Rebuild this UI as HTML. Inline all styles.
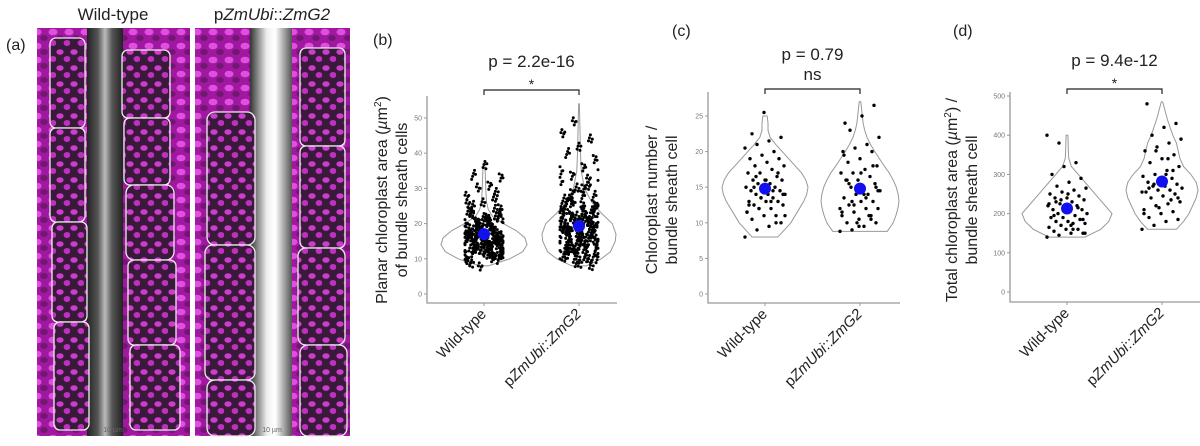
<!DOCTYPE html>
<html><head><meta charset="utf-8"><style>
html,body{margin:0;padding:0;background:#fff;}
svg{display:block;font-family:"Liberation Sans",sans-serif;}
</style></head><body>
<svg id="fig" width="1200" height="446" viewBox="0 0 1200 446">
<defs>
<pattern id="chl" width="14" height="16" patternUnits="userSpaceOnUse">
<rect width="14" height="16" fill="#3a1a3a"/>
<ellipse cx="4" cy="4" rx="3.6" ry="2.8" fill="#d03cd0"/>
<ellipse cx="11" cy="11" rx="3.4" ry="3" fill="#c030c0"/>
</pattern>
<pattern id="chl2" width="16" height="14" patternUnits="userSpaceOnUse">
<rect width="16" height="14" fill="#a018a0"/>
<ellipse cx="5" cy="4" rx="4.5" ry="3.3" fill="#e050e0"/>
<ellipse cx="12" cy="10" rx="3.8" ry="3" fill="#701870"/>
</pattern>
<linearGradient id="vein1" x1="0" x2="1"><stop offset="0" stop-color="#222"/><stop offset="0.3" stop-color="#555"/><stop offset="0.5" stop-color="#bbb"/><stop offset="0.7" stop-color="#555"/><stop offset="1" stop-color="#222"/></linearGradient>
<linearGradient id="vein2" x1="0" x2="1"><stop offset="0" stop-color="#333"/><stop offset="0.4" stop-color="#eee"/><stop offset="0.6" stop-color="#fff"/><stop offset="1" stop-color="#555"/></linearGradient>
</defs>

<g>
<text x="6" y="50" font-size="16" fill="#222">(a)</text>
<text x="113" y="20" font-size="17" text-anchor="middle" fill="#222">Wild-type</text>
<text x="272" y="20" font-size="17" text-anchor="middle" fill="#222">p<tspan font-style="italic">ZmUbi</tspan>::<tspan font-style="italic">ZmG2</tspan></text>
<g>
<rect x="37" y="28" width="153" height="408" fill="url(#chl2)"/>
<rect x="87" y="28" width="36" height="408" fill="url(#vein1)"/>
<g fill="url(#chl)" stroke="#eee" stroke-width="1.3">
<rect x="50" y="38" width="35" height="90" rx="6"/><rect x="50" y="128" width="35" height="94" rx="6"/>
<rect x="52" y="222" width="35" height="100" rx="6"/><rect x="54" y="322" width="35" height="108" rx="6"/>
<rect x="122" y="50" width="48" height="68" rx="6"/><rect x="124" y="118" width="46" height="67" rx="6"/>
<rect x="126" y="185" width="48" height="75" rx="8"/><rect x="128" y="260" width="48" height="85" rx="6"/>
<rect x="130" y="345" width="50" height="85" rx="6"/>
</g>
<text x="113" y="432" font-size="7" text-anchor="middle" fill="#666">10 µm</text>
</g>
<g>
<rect x="195" y="28" width="155" height="408" fill="url(#chl2)"/>
<rect x="250" y="28" width="42" height="408" fill="url(#vein2)"/>
<g fill="url(#chl)" stroke="#eee" stroke-width="1.3">
<rect x="207" y="112" width="48" height="133" rx="8"/><rect x="205" y="245" width="50" height="135" rx="8"/>
<rect x="207" y="380" width="48" height="56" rx="8"/>
<rect x="300" y="48" width="45" height="98" rx="6"/><rect x="300" y="146" width="45" height="102" rx="6"/>
<rect x="298" y="248" width="47" height="97" rx="8"/><rect x="300" y="345" width="47" height="91" rx="8"/>
</g>
<text x="272" y="432" font-size="7" text-anchor="middle" fill="#666">10 µm</text>
</g>
</g>
<g id="charts"></g>
</svg>
<script>
// ---- panel b data ----
const categories = ["Wild-type", "pZmUbi::ZmG2"];
const bTicks = [0,10,20,30,40,50];
const bMeans = [17, 19.3];
const bWtLevels = [8,10,12,14,16,18,20,22,24,26,30,34,37];
const bWtWidths = [0.1,0.6,0.9,1.0,0.95,0.75,0.45,0.2,0.1,0.06,0.04,0.03,0.02];
const bG2Levels = [8,10,12,15,17,20,23,26,30,35,40,45,54];
const bG2Widths = [0.2,0.6,0.85,0.98,1,0.9,0.6,0.35,0.15,0.06,0.04,0.03,0.01];
const bWtPoints = [12,14,15,16,17,18,19,20,13,11,10,9,15,16,17,18,14,13,12,21,22,23,19,18,17,16,15,14,13,12,11,10,20,21,24,25,16,15,17,18,19,14,13,12,11,16,17,18,15,14,20,22,23,26,27,28,30,31,33,34,37,29,9,8,10,12,13,15,16,17,18,19,20,21,14,16,18,22,24,26,12.5,13.5,14.5,15.5,16.5,17.5,18.5,19.5,11.5,10.5,20.5,21.5,22.5,23.5,14,15,16,17,13,12];
const bG2Points = [10,12,14,16,18,20,22,24,26,28,11,13,15,17,19,21,23,25,27,9,8,10,12,14,16,18,20,22,24,30,31,32,34,36,38,40,42,44,46,49,12,15,18,21,24,27,13,16,19,22,25,28,14,17,20,23,26,11,13,15,17,19,21,9,10,12,14,16,18,20,22,33,35,29,30,19,17,15,20,25,12.5,13.5,14.5,15.5,16.5,17.5,18.5,19.5,20.5,21.5,22.5,23.5,24.5,11.5,10.5,9.5];
// ---- panel c data ----
const cTicks = [0,5,10,15,20,25];
const cMeans = [14.8, 14.8];
const cWtLevels = [8,9,10,11,12,13,14,15,16,17,18,19,20,21,22,23,24,25];
const cWtWidths = [0.3,0.45,0.6,0.7,0.8,0.9,0.97,1,0.95,0.85,0.7,0.55,0.4,0.25,0.12,0.07,0.07,0.05];
const cG2Levels = [8.8,10,11,12,13,14,15,16,17,18,19,20,21,22,23,24,25,26,27];
const cG2Widths = [0.7,0.85,0.92,0.97,1,0.98,0.93,0.85,0.75,0.62,0.5,0.38,0.27,0.18,0.12,0.08,0.06,0.04,0.02];
const cWtPoints = [8,9,9.5,10,10.5,11,11,11.5,12,12,12.5,12.5,13,13,13,13.5,13.5,14,14,14,14.5,14.5,15,15,15,15.5,15.5,16,16,16,16.5,17,17,17.5,18,18,18.5,19,19,19.5,20,20.5,21,21.5,22,22.5,25.5,10,11.5,12,13,14,15,16,17,12.5,13.5,14.5,11,16.5];
const cG2Points = [8.8,9,9.5,10,10,10.5,11,11,11.5,12,12,12.5,13,13,13.5,14,14,14.5,15,15,15.5,16,16,16.5,17,17,17.5,18,18.5,19,20,20,20.5,21,22,23,25,26.5,24,10,11,12,13,14,15,16,9.5,10.5,11.5,12.5,13.5,14.5,15.5,17,18,19.5];
// ---- panel d data ----
const dTicks = [0,100,200,300,400,500];
const dMeans = [213, 282];
const dWtLevels = [140,160,180,200,220,240,260,280,300,320,340,360,400];
const dWtWidths = [0.4,0.75,0.93,1,0.85,0.7,0.55,0.4,0.25,0.1,0.04,0.03,0.02];
const dG2Levels = [160,180,200,220,240,260,280,300,320,340,360,380,400,440,485];
const dG2Widths = [0.4,0.6,0.75,0.85,0.95,1,0.95,0.8,0.6,0.5,0.45,0.4,0.3,0.15,0.02];
const dWtPoints = [140,145,150,150,155,160,160,165,170,175,175,180,180,185,190,190,195,200,200,205,210,210,215,220,220,225,230,235,240,240,245,250,255,260,265,270,280,290,300,320,330,400,380,170,185,195,205,215,225,235,160,150,230,250];
const dG2Points = [160,170,180,185,190,200,205,210,220,225,230,240,245,250,255,260,260,265,270,270,275,280,285,290,295,300,310,320,330,340,350,360,370,380,390,400,420,430,480,215,235,255,275,300,240,265,285,310,200,360,340];

const NS = "http://www.w3.org/2000/svg";
const root = document.getElementById("charts");
function mk(tag, attrs, parent){
  const e = document.createElementNS(NS, tag);
  for (const k in attrs) e.setAttribute(k, attrs[k]);
  parent.appendChild(e);
  return e;
}
function jit(i){ return (((i*53)%41)/40 - 0.5); }

function panel(cfg){
  const g = mk("g", {}, root);
  
  
  const yMax = cfg.ticks[cfg.ticks.length-1];
  const ys = v => cfg.y0 - (v / yMax) * (cfg.y0 - cfg.yTop);
  const xs = i => cfg.xc[i];
  const ax = mk("path", {d:`M${cfg.ax} ${cfg.axTop} V${cfg.axBottom} H${cfg.axRight}`, fill:"none", stroke:"#999", "stroke-width":1.3}, g);
  
  
  cfg.ticks.forEach(t => {
    const y = ys(t);
    mk("line", {x1:cfg.ax-3, x2:cfg.ax, y1:y, y2:y, stroke:"#999"}, g);
    const tl = mk("text", {x:cfg.ax-5, y:y+2.5, "font-size":7, fill:"#777", "text-anchor":"end"}, g);
    tl.textContent = t;
    
    
  });
  categories.forEach((c, i) => {
    const x = xs(i);
    mk("line", {x1:x, x2:x, y1:cfg.axBottom, y2:cfg.axBottom+3, stroke:"#999"}, g);
    const tl = mk("text", {x:x+3, y:cfg.axBottom+12, "font-size":15, fill:"#222", "text-anchor":"end", transform:`rotate(-45 ${x+3} ${cfg.axBottom+12})`}, g);
    if (i === 0) tl.textContent = c;
    else { tl.innerHTML = 'p<tspan font-style="italic">ZmUbi</tspan>::<tspan font-style="italic">ZmG2</tspan>'; }
    
    
  });
  cfg.violins.forEach((vd, i) => {
    const [lv, wd, hw] = vd;
    const x = xs(i);
    let d = "";
    lv.forEach((l, k) => { d += (k ? "L" : "M") + (x - wd[k]*hw) + " " + ys(l); });
    for (let k = lv.length-1; k >= 0; k--) d += "L" + (x + wd[k]*hw) + " " + ys(lv[k]);
    d += "Z";
    const p = mk("path", {d, fill:"none", stroke:"#999", "stroke-width":1}, g);
    
    
  });
  cfg.points.forEach((pts, i) => {
    const x = xs(i);
    for (let rep = 0; rep < cfg.reps; rep++) {
      pts.forEach((v, k) => {
        const jj = jit(k + rep * 17);
        const c = mk("circle", {cx: x + jj * cfg.jw * 2, cy: ys(v) + (rep ? (jit(k*3+rep)*cfg.ys) : 0), r: cfg.pr, fill:"#000"}, g);
        
        
      });
    }
  });
  cfg.means.forEach((m, i) => {
    const c = mk("circle", {cx: xs(i), cy: ys(m), r: 6, fill:"#1010f0"}, g);
    
    
  });
  const by = cfg.bracketY;
  const br = mk("path", {d:`M${xs(0)} ${by+5} V${by} H${xs(1)} V${by+5}`, fill:"none", stroke:"#222", "stroke-width":1.2}, g);
  
  
  const mid = (xs(0)+xs(1))/2;
  const pt = mk("text", {x:mid, y:cfg.pY, "font-size":17, "text-anchor":"middle", fill:"#222"}, g);
  pt.textContent = cfg.p;
  
  
  const st = mk("text", {x:mid, y:cfg.pY+ (cfg.sig === "ns" ? 20 : 22), "font-size":cfg.sig === "ns" ? 17 : 14, "text-anchor":"middle", fill:"#222"}, g);
  st.textContent = cfg.sig;
  
  
  const pl = mk("text", {x:cfg.labX, y:cfg.labY, "font-size":16, fill:"#222"}, g);
  pl.textContent = cfg.label;
  
  
  const yt = mk("text", {x:0, y:0, "font-size":16, "text-anchor":"middle", fill:"#222", transform:`translate(${cfg.titleX} ${cfg.titleY}) rotate(-90)`}, g);
  yt.innerHTML = `<tspan x="0" dy="0">${cfg.t1}</tspan><tspan x="0" dy="20">${cfg.t2}</tspan>`;
  
  
}

panel({name:"panel-b-planar-area", ticks:bTicks, y0:294, yTop:118, ax:427, axTop:96, axBottom:303, axRight:617,
  xc:[484,579], violins:[[bWtLevels,bWtWidths,43],[bG2Levels,bG2Widths,37]], points:[bWtPoints,bG2Points],
  means:bMeans, jw:19, pr:1.5, reps:5, ys:10, bracketY:90, pY:67, p:"p = 2.2e-16", sig:"*", label:"(b)", labX:373, labY:45,
  titleX:387, titleY:200, t1:"Planar chloroplast area (<tspan font-style='italic'>µ</tspan>m<tspan dy='-6' font-size='10'>2</tspan><tspan dy='6'>)</tspan>", t2:"of bundle sheath cells"});
panel({name:"panel-c-chloroplast-number", ticks:cTicks, y0:294, yTop:116, ax:708, axTop:92, axBottom:303, axRight:900,
  xc:[765,860], violins:[[cWtLevels,cWtWidths,43],[cG2Levels,cG2Widths,39]], points:[cWtPoints,cG2Points],
  means:cMeans, jw:20, pr:1.7, reps:1, ys:0, bracketY:89, pY:60, p:"p = 0.79", sig:"ns", label:"(c)", labX:672, labY:36,
  titleX:657, titleY:200, t1:"Chloroplast number /", t2:"bundle sheath cell"});
panel({name:"panel-d-total-area", ticks:dTicks, y0:292, yTop:96, ax:1010, axTop:92, axBottom:302, axRight:1200,
  xc:[1067,1162], violins:[[dWtLevels,dWtWidths,45],[dG2Levels,dG2Widths,36]], points:[dWtPoints,dG2Points],
  means:dMeans, jw:20, pr:1.7, reps:1, ys:0, bracketY:89, pY:66, p:"p = 9.4e-12", sig:"*", label:"(d)", labX:953, labY:36,
  titleX:957, titleY:200, t1:"Total chloroplast area (<tspan font-style='italic'>µ</tspan>m<tspan dy='-6' font-size='10'>2</tspan><tspan dy='6'>) /</tspan>", t2:"bundle sheath cell"});
</script>
</body></html>
